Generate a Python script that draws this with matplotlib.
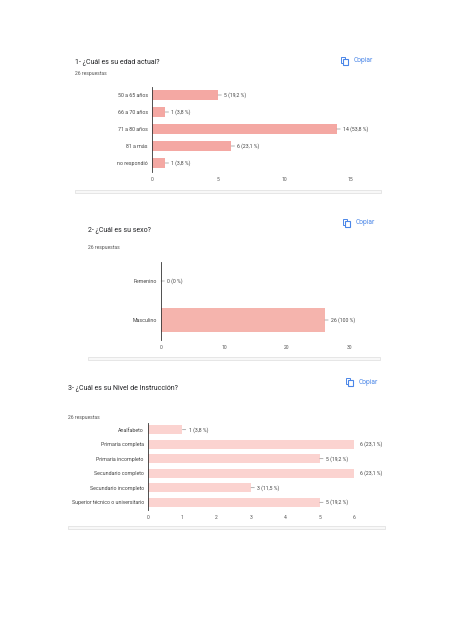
import matplotlib.pyplot as plt
from matplotlib.patches import Rectangle

plt.rcParams['font.family'] = ['Roboto', 'DejaVu Sans']

W, H = 453, 640

# Pregunta 1
edad_labels = ['50 a 65 años', '66 a 70 años', '71 a 80 años', '81 a más', 'no respondió']
edad_values = [5, 1, 14, 6, 1]
edad_pct = ['19,2', '3,8', '53,8', '23,1', '3,8']
edad_ticks = [0, 5, 10, 15]

# Pregunta 2
sexo_labels = ['Femenino', 'Masculino']
sexo_values = [0, 26]
sexo_pct = ['0', '100']
sexo_ticks = [0, 10, 20, 30]

# Pregunta 3
instr_labels = ['Analfabeto', 'Primaria completa', 'Primaria incompleto',
                'Secundario completo', 'Secundario incompleto',
                'Superior técnico o universitario']
instr_values = [1, 6, 5, 6, 3, 5]
instr_pct = ['3,8', '23,1', '19,2', '23,1', '11,5', '19,2']
instr_ticks = [0, 1, 2, 3, 4, 5, 6]

fig = plt.figure(figsize=(W / 100, H / 100), dpi=100)


def px_axes(x0, y0, x1, y1):
    return fig.add_axes([x0 / W, 1 - y1 / H, (x1 - x0) / W, (y1 - y0) / H])


def header(x, y, title, copy_x, copy_y, resp_y):
    fig.text(x / W, 1 - y / H, title, fontsize=5.0, color='#202124', va='center')
    fig.text(x / W, 1 - resp_y / H, '26 respuestas', fontsize=3.6, color='#555555', va='center')
    # copy icon
    fig.patches.append(Rectangle(((copy_x - 4) / W, 1 - (copy_y + 2) / H), 4 / W, 6 / H,
                                 transform=fig.transFigure, fill=False,
                                 edgecolor='#4a86e8', lw=0.7))
    fig.patches.append(Rectangle(((copy_x - 2) / W, 1 - (copy_y + 4) / H), 4.5 / W, 6 / H,
                                 transform=fig.transFigure, facecolor='white',
                                 edgecolor='#4a86e8', lw=0.8))
    fig.text((copy_x + 9) / W, 1 - copy_y / H, 'Copiar', fontsize=4.8,
             color='#4a86e8', va='center')


def separator(x0, x1, y):
    fig.patches.append(Rectangle((x0 / W, 1 - (y + 1.5) / H), (x1 - x0) / W, 3 / H,
                                 transform=fig.transFigure, facecolor='#f8f8f8',
                                 edgecolor='#dddddd', lw=0.5))


def chart(ax, labels, values, pct, ticks, color, bar_h):
    pos = range(len(labels))
    ax.barh(pos, values, height=bar_h, color=color, zorder=2)
    ax.set_xlim(ticks[0], ticks[-1])
    ax.set_ylim(len(labels) - 0.5, -0.5)
    ax.set_yticks(list(pos))
    ax.set_yticklabels(labels, fontsize=3.8, color='#444444')
    ax.set_xticks(ticks)
    ax.set_xticklabels([str(t) for t in ticks], fontsize=3.6, color='#555555')
    ax.tick_params(length=0, pad=3)
    ax.tick_params(axis='x', pad=4)
    for s in ['top', 'right', 'bottom']:
        ax.spines[s].set_visible(False)
    ax.spines['left'].set_color('#333333')
    ax.spines['left'].set_linewidth(0.6)
    ax.spines['left'].set_zorder(3)
    for i, (v, p) in enumerate(zip(values, pct)):
        txt = f'{v} ({p} %)'
        if v >= ticks[-1]:
            ax.annotate(txt, xy=(v, i), xytext=(4.5, 0), textcoords='offset points',
                        fontsize=3.7, color='#444444', va='center', ha='left',
                        annotation_clip=False)
        else:
            ax.annotate(txt, xy=(v, i), xytext=(4.5, 0), textcoords='offset points',
                        fontsize=3.7, color='#444444', va='center', ha='left',
                        annotation_clip=False,
                        arrowprops=dict(arrowstyle='-', color='#777777', lw=0.4,
                                        shrinkA=0, shrinkB=0))
    ax.set_facecolor('none')


# chart 1
header(75, 62, '1- ¿Cuál es su edad actual?', 345, 61, 74)
ax1 = px_axes(152, 86.5, 350, 171.5)
chart(ax1, edad_labels, edad_values, edad_pct, edad_ticks, '#f4a8a3', 0.53)
separator(75, 381, 191)

# chart 2
header(88, 230, '2- ¿Cuál es su sexo?', 347, 223, 247)
ax2 = px_axes(161, 261.5, 350, 339.5)
chart(ax2, sexo_labels, sexo_values, sexo_pct, sexo_ticks, '#f5b4ad', 0.62)
separator(88, 380, 358)

# chart 3
header(68, 388, '3- ¿Cuál es su Nivel de Instrucción?', 350, 382, 417)
ax3 = px_axes(148, 422.5, 354, 509.5)
chart(ax3, instr_labels, instr_values, instr_pct, instr_ticks, '#fbd3d0', 0.65)
separator(68, 385, 527)

fig.savefig('out.png', dpi=100, facecolor='white')
